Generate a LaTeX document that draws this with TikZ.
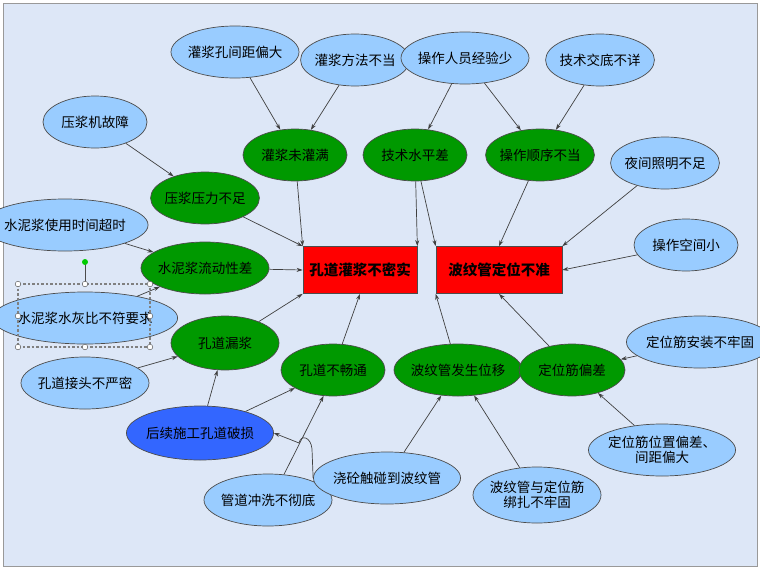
\documentclass[tikz,border=0pt]{standalone}
\usepackage{fontspec}
\setmainfont{Noto Sans CJK SC}
\usetikzlibrary{shapes.geometric,arrows.meta}
\definecolor{lb}{HTML}{99CCFF}
\definecolor{gr}{HTML}{009900}
\definecolor{bl}{HTML}{3366FF}
\definecolor{bg}{HTML}{DDE7F7}
\begin{document}
\begin{tikzpicture}[x=1pt,y=-1pt,
 every node/.style={font=\fontsize{13.5}{15}\selectfont},
 ell/.style={ellipse,draw=black!70,line width=0.7pt,inner sep=-2pt,minimum width=104,minimum height=52,align=center},
 cause/.style={ell,fill=lb},
 mid/.style={ell,fill=gr},
 blu/.style={ell,fill=bl},
 top/.style={rectangle,draw=black!70,fill=red,line width=0.7pt,minimum width=114,minimum height=47,font=\fontsize{14.5}{16}\selectfont\bfseries},
 arr/.style={-{Stealth[length=6pt,width=4pt]},draw=black!75,line width=0.7pt}]
\useasboundingbox (0,0) rectangle (760,570);
\fill[white] (0,0) rectangle (760,570);
\fill[bg] (3,3) rectangle (757,566);
\draw[black!40] (3,3) rectangle (757,566);
% nodes
\node[cause] (a1) at (235,52) {灌浆孔间距偏大};
\node[cause] (a2) at (355,60) {灌浆方法不当};
\node[cause] (a3) at (465,58) {操作人员经验少};
\node[cause] (a4) at (600,60) {技术交底不详};
\node[cause] (a5) at (95,122) {压浆机故障};
\node[mid] (m1) at (295,155) {灌浆未灌满};
\node[mid] (m2) at (415,155) {技术水平差};
\node[mid] (m3) at (540,155) {操作顺序不当};
\node[cause] (a6) at (665,163) {夜间照明不足};
\node[mid] (m4) at (205,198) {压浆压力不足};
\node[cause,minimum width=116] (a7) at (65,225) {水泥浆使用时间超时};
\node[mid,minimum width=108] (m5) at (205,268) {水泥浆流动性差};
\node[top] (t1) at (360,270) {孔道灌浆不密实};
\node[top,minimum width=126] (t2) at (499,270) {波纹管定位不准};
\node[cause] (a8) at (686,245) {操作空间小};
\node[cause,minimum width=128] (a9) at (85,318) {水泥浆水灰比不符要求};
\node[mid,minimum width=108,minimum height=54] (m6) at (225,343) {孔道漏浆};
\node[cause,minimum width=108] (a10) at (85,383) {孔道接头不严密};
\node[mid] (m7) at (333,370) {孔道不畅通};
\node[mid,minimum width=106] (m8) at (458,370) {波纹管发生位移};
\node[mid,minimum width=106] (m9) at (572,370) {定位筋偏差};
\node[cause,minimum width=106] (a11) at (700,342) {定位筋安装不牢固};
\node[blu,minimum width=106,minimum height=54] (b1) at (200,433) {后续施工孔道破损};
\node[cause,minimum width=106] (a12) at (662,450) {定位筋位置偏差、\\间距偏大};
\node[cause,minimum width=104] (a13) at (268,500) {管道冲洗不彻底};
\node[cause,minimum width=106] (a14) at (387,478) {浇砼触碰到波纹管};
\node[cause,minimum width=106,minimum height=56] (a15) at (537,495) {波纹管与定位筋\\绑扎不牢固};
% selection box
\draw[black!50,line width=2.5pt,dotted] (18,284) rectangle (150,347);
\draw[black!70] (85,284) -- (85,262);
\fill[green!80!black] (85,262) circle (3);
\foreach \p in {(18,284),(85,284),(150,284),(18,316),(150,316),(18,347),(85,347),(150,347)}
  \draw[black!70,fill=white] \p circle (2.8);
% edges
\draw[arr] (a1) -- (m1);
\draw[arr] (a2) -- (m1);
\draw[arr] (a3) -- (m2);
\draw[arr] (a3) -- (m3);
\draw[arr] (a4) -- (m3);
\draw[arr] (a5) -- (m4);
\draw[arr] (m1) -- (t1.north west);
\draw[arr] (m2) -- (t1.north east);
\draw[arr] (m2) -- (t2.north west);
\draw[arr] (m3) -- (t2.north);
\draw[arr] (a6) -- (t2.north east);
\draw[arr] (a8) -- (t2.east);
\draw[arr] (m4) -- (t1.north west);
\draw[arr] (m5) -- (t1.west);
\draw[arr] (a7) -- (m5);
\draw[arr] (a9) -- (m5);
\draw[arr] (m6) -- (t1.south west);
\draw[arr] (a10) -- (m6);
\draw[arr] (b1) -- (m6);
\draw[arr] (b1) -- (m7);
\draw[arr] (m7) -- (t1.south);
\draw[arr] (a13.58) -- (m7.250);
\draw[arr] (a14) -- (m8);
\draw[arr] (a15) -- (m8);
\draw[arr] (m8) -- (t2.south west);
\draw[arr] (m9) -- (t2.south);
\draw[arr] (a11) -- (m9);
\draw[arr] (a12) -- (m9);
\coordinate (h1) at (312,449);
\coordinate (h2) at (299,443);
\draw[arr] (a14.west) -- (h1) .. controls (311,437) and (301,434) .. (h2) -- (b1.east);
\end{tikzpicture}
\end{document}
